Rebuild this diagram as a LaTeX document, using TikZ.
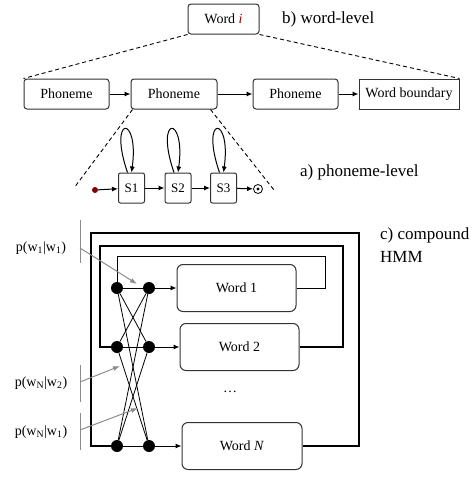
\documentclass[tikz,border=0pt]{standalone}
\usepackage{fontspec}
\setmainfont{Liberation Serif}
\usetikzlibrary{arrows.meta}
\begin{document}
\begin{tikzpicture}[x=1pt,y=-1pt,
  box/.style={draw=black!80,line width=1pt,rounded corners=3pt,inner sep=0pt,font=\fontsize{14}{16}\selectfont},
  sbox/.style={draw=black!80,line width=1pt,rounded corners=2pt,inner sep=0pt,minimum width=26pt,minimum height=30pt,font=\fontsize{13}{15}\selectfont},
  wbox/.style={draw=black!80,line width=1pt,rounded corners=6pt,inner sep=0pt,minimum width=119pt,minimum height=47pt,font=\fontsize{14}{16}\selectfont},
  lab/.style={font=\fontsize{17}{23}\selectfont,inner sep=0pt,anchor=west},
  arr/.style={-{Latex[length=6pt,width=5pt]},line width=1pt},
  dsh/.style={dashed,dash pattern=on 4pt off 3pt,line width=0.9pt},
  dot/.style={circle,fill=black,inner sep=0pt,minimum size=12pt},
  gl/.style={draw=black!45,line width=1pt},
  garr/.style={black!45,line width=1pt,-{Latex[length=7pt,width=5pt]}},
  plab/.style={font=\fontsize{14}{16}\selectfont,inner sep=0pt}
]
\useasboundingbox (0,0) rectangle (474,480);
% top level
\node[box,minimum width=71pt,minimum height=30pt] (wi) at (223.5,19) {Word \textit{\color{red!60!black}i}};
\node[lab] (bl) at (282,19) {b) word-level};
\node[box,minimum width=85pt,minimum height=30pt] (p1) at (66.5,94) {Phoneme};
\node[box,minimum width=86pt,minimum height=30pt] (p2) at (174,94) {Phoneme};
\node[box,minimum width=85pt,minimum height=30pt] (p3) at (295.5,94) {Phoneme};
\node[box,rounded corners=0pt,minimum width=100pt,minimum height=30pt] (wb) at (409,94) {Word boundary};
\draw[arr] (p1) -- (p2);
\draw[arr] (p2) -- (p3);
\draw[arr] (p3) -- (wb);
\draw[dsh] (wi.south west) -- (p1.north west);
\draw[dsh] (wi.south east) -- (wb.north east);
\coordinate (dl) at (74,188);
\coordinate (dr) at (274,190);
\draw[dsh] ([xshift=2pt]p2.south west) -- (dl);
\draw[dsh] ([xshift=-7pt]p2.south east) -- (dr);
% phoneme level
\node[sbox] (s1) at (131.5,188) {S1};
\node[sbox] (s2) at (178,188) {S2};
\node[sbox] (s3) at (223.5,188) {S3};
\node[circle,fill=red!50!black,inner sep=0pt,minimum size=6pt] (st) at (95,190) {};
\node[circle,draw,line width=0.8pt,inner sep=0pt,minimum size=9pt] (en) at (258,189) {};
\fill (en.center) circle (1.6pt);
\draw[arr] (st) -- (s1);
\draw[arr] (s1) -- (s2);
\draw[arr] (s2) -- (s3);
\draw[arr] (s3) -- (en);
\foreach \s in {s1,s2,s3}
  \draw[arr] ([xshift=-4pt]\s.north) .. controls +(-20,-58) and +(8,-58) .. (\s.north);
\node[lab] (al) at (300,172) {a) phoneme-level};
% compound HMM
\node[wbox] (w1) at (236.5,288) {Word 1};
\node[wbox] (w2) at (239.5,347) {Word 2};
\node[wbox,minimum width=120pt] (wn) at (242,446) {Word \textit{N}};
\node[plab] (dd) at (230,392) {\dots};
\node[dot] (l1) at (117,288) {};
\node[dot] (r1) at (149,288) {};
\node[dot] (l2) at (117,347) {};
\node[dot] (r2) at (149,347) {};
\node[dot] (l3) at (117,446) {};
\node[dot] (r3) at (149,446) {};
\foreach \a in {l1,l2,l3}
  \foreach \b in {r1,r2,r3}
    \draw[line width=0.8pt] (\a) -- (\b);
\draw[arr] (r1) -- (w1);
\draw[arr] (r2) -- (w2);
\draw[arr] (r3) -- (wn);
\draw[line width=1.2pt] (wn.east) -| (359,233) -| (91,446) -- (l3);
\draw[line width=1.6pt] (w2.east) -| (343,246) -| (100,347) -- (l2);
\draw[line width=1pt] (w1.east) -| (325,256) -| (l1);
\node[lab,align=left,anchor=north west] (cl) at (380,228) {c) compound\\HMM};
% probability labels
\node[plab] (t1) at (41,248) {p(w\textsubscript{1}|w\textsubscript{1})};
\node[plab] (t2) at (41,383) {p(w\textsubscript{N}|w\textsubscript{2})};
\node[plab] (t3) at (41,432) {p(w\textsubscript{N}|w\textsubscript{1})};
\draw[gl] (80,220) -- (80,263);
\draw[gl] (80,365) -- (80,402);
\draw[gl] (80,413) -- (80,450);
\coordinate (a1) at (137,284);
\coordinate (a2) at (120,366);
\coordinate (a3) at (138,408);
\draw[garr] (80,248) -- (a1);
\draw[garr] (80,382) -- (a2);
\draw[garr] (80,430) -- (a3);
\end{tikzpicture}
\end{document}
